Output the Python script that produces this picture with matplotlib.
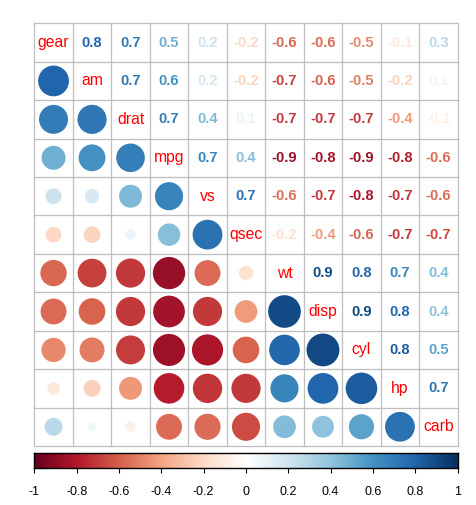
import numpy as np
import matplotlib
matplotlib.use('Agg')
import matplotlib.pyplot as plt
from matplotlib.colors import LinearSegmentedColormap
from matplotlib.patches import Circle

plt.rcParams['font.family'] = ['Liberation Sans', 'DejaVu Sans']

labels = ['gear', 'am', 'drat', 'mpg', 'vs', 'qsec', 'wt', 'disp', 'cyl', 'hp', 'carb']

# upper triangle, row by row (values right of the diagonal)
upper = [
    [0.79, 0.70, 0.48, 0.21, -0.21, -0.58, -0.56, -0.49, -0.13, 0.27],
    [0.71, 0.60, 0.17, -0.23, -0.69, -0.59, -0.52, -0.24, 0.06],
    [0.68, 0.44, 0.09, -0.71, -0.71, -0.70, -0.44, -0.09],
    [0.66, 0.42, -0.87, -0.84, -0.86, -0.78, -0.56],
    [0.74, -0.56, -0.71, -0.81, -0.72, -0.57],
    [-0.17, -0.43, -0.59, -0.71, -0.66],
    [0.89, 0.78, 0.66, 0.43],
    [0.90, 0.79, 0.40],
    [0.83, 0.53],
    [0.74],
]

cb_ticks = [-1, -0.8, -0.6, -0.4, -0.2, 0, 0.2, 0.4, 0.6, 0.8, 1]

n = len(labels)
corr = np.eye(n)
for i, row in enumerate(upper):
    for k, v in enumerate(row):
        corr[i, i + 1 + k] = v
        corr[i + 1 + k, i] = v

cols = ["#67001F", "#B2182B", "#D6604D", "#F4A582", "#FDDBC7", "#FFFFFF",
        "#D1E5F0", "#92C5DE", "#4393C3", "#2166AC", "#053061"]
cmap = LinearSegmentedColormap.from_list('rdbu', cols, N=200)


def col(v):
    return cmap((v + 1) / 2)


W, H = 477, 505
fig = plt.figure(figsize=(W / 100, H / 100), dpi=100)
left, right, top, bottom = 34.3, 457.7, 23.3, 446.0
ax = fig.add_axes([left / W, 1 - bottom / H, (right - left) / W, (bottom - top) / H])
ax.set_xlim(0, n)
ax.set_ylim(n, 0)
ax.axis('off')

for i in range(n):
    for j in range(n):
        v = corr[i, j]
        if i == j:
            ax.text(j + 0.5, i + 0.5, labels[i], color='red', fontsize=11.3,
                    ha='center', va='center')
        elif j > i:
            ax.text(j + 0.5, i + 0.5, f"{v:.1f}", color=col(v), fontsize=10.6,
                    fontweight='bold', ha='center', va='center')
        else:
            r = 0.9 * np.sqrt(abs(v)) / 2
            ax.add_patch(Circle((j + 0.5, i + 0.5), r, facecolor=col(v),
                                edgecolor='none'))

for k in range(n + 1):
    ax.plot([k, k], [0, n], color='#BEBEBE', lw=0.9, clip_on=False)
    ax.plot([0, n], [k, k], color='#BEBEBE', lw=0.9, clip_on=False)

# colour legend
cax = fig.add_axes([left / W, 1 - 468.3 / H, (right - left) / W, 15 / H])
grad = np.linspace(-1, 1, 200).reshape(1, -1)
cax.imshow(grad, cmap=cmap, vmin=-1, vmax=1, aspect='auto',
           extent=[-1, 1, 0, 1])
cax.set_xlim(-1, 1)
cax.set_yticks([])
cax.set_xticks(cb_ticks)
cax.set_xticklabels([f"{t:g}" for t in cb_ticks], fontsize=9)
cax.tick_params(axis='x', length=3.5, width=0.8, pad=9)
for s in cax.spines.values():
    s.set_linewidth(1.0)

fig.savefig('out.png', dpi=100)
